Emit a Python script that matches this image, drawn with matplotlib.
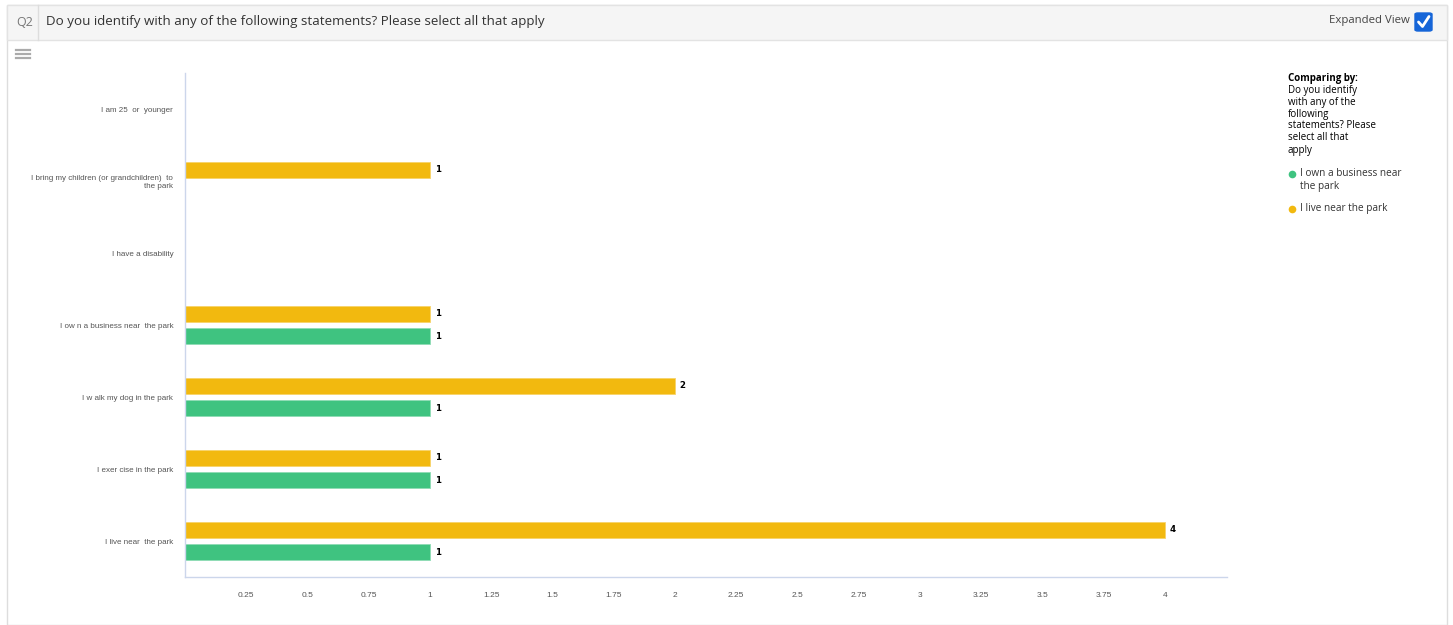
import numpy as np
import matplotlib
matplotlib.use("Agg")
import matplotlib.pyplot as plt
from matplotlib.patches import Rectangle, FancyBboxPatch
from matplotlib.lines import Line2D

categories = [
    "I am 25  or  younger",
    "I bring my children (or grandchildren)  to\nthe park",
    "I have a disability",
    "I ow n a business near  the park",
    "I w alk my dog in the park",
    "I exer cise in the park",
    "I live near  the park",
]
own_business = [0, 0, 0, 1, 1, 1, 1]
live_near = [0, 1, 0, 1, 2, 1, 4]
xticks = [0.25, 0.5, 0.75, 1, 1.25, 1.5, 1.75, 2, 2.25, 2.5, 2.75, 3, 3.25, 3.5, 3.75, 4]
series_names = ["I own a business near\nthe park", "I live near the park"]

GREEN = "#3fc380"
YELLOW = "#f2b90f"
W, H = 1453, 625

fig = plt.figure(figsize=(W / 100, H / 100), dpi=100)

def fx(px):
    return px / W

def fy(py):
    return 1 - py / H

# panel frame and header band (behind the axes)
fig.patches.append(Rectangle((fx(7), fy(625)), fx(1447) - fx(7), fy(5) - fy(625),
                             transform=fig.transFigure, facecolor="white",
                             edgecolor="#dddddd", lw=1, zorder=-2))
fig.patches.append(Rectangle((fx(7), fy(40)), fx(1447) - fx(7), fy(5) - fy(40),
                             transform=fig.transFigure, facecolor="#f5f5f5",
                             edgecolor="#e3e3e3", lw=1, zorder=-1))
fig.add_artist(Line2D([fx(38), fx(38)], [fy(5), fy(40)], color="#dddddd", lw=1))
fig.text(fx(16), fy(22), "Q2", fontsize=9, color="#777777", family="Open Sans", va="center")
fig.text(fx(46), fy(22), "Do you identify with any of the following statements? Please select all that apply",
         fontsize=9.6, color="#333333", family="Open Sans", va="center")
fig.text(fx(1410), fy(21), "Expanded View", fontsize=8.2, color="#444444",
         family="Open Sans", va="center", ha="right")
fig.patches.append(FancyBboxPatch((fx(1415), fy(31)), fx(17), fy(13) - fy(31),
                                  boxstyle="round,pad=0,rounding_size=0.002",
                                  transform=fig.transFigure, facecolor="#1565d8",
                                  edgecolor="#1565d8"))
fig.add_artist(Line2D([fx(1418.5), fx(1422.5), fx(1429)], [fy(22), fy(26.5), fy(16.5)],
                      color="white", lw=2, solid_capstyle="round"))
for yy in (50, 54, 58):
    fig.add_artist(Line2D([fx(16), fx(30)], [fy(yy), fy(yy)], color="#aaaaaa", lw=1.6))

# main chart
ax = fig.add_axes([fx(185), fy(577), fx(1227) - fx(185), fy(73) - fy(577)])
ax.patch.set_alpha(0)
y = np.arange(len(categories))
h = 0.225
off = 0.153
ax.barh(y - off, live_near, height=h, color=YELLOW, edgecolor="#f7d36a", lw=0.6)
ax.barh(y + off, own_business, height=h, color=GREEN, edgecolor="#8fdcb5", lw=0.6)

for i in range(len(categories)):
    if live_near[i]:
        ax.annotate(str(live_near[i]), (live_near[i], y[i] - off), xytext=(3.5, 0),
                    textcoords="offset points", va="center", fontsize=6.2,
                    fontweight="bold", color="black")
    if own_business[i]:
        ax.annotate(str(own_business[i]), (own_business[i], y[i] + off), xytext=(3.5, 0),
                    textcoords="offset points", va="center", fontsize=6.2,
                    fontweight="bold", color="black")

ax.set_ylim(len(categories) - 0.5, -0.5)
ax.set_xlim(0, 4.253)
ax.set_yticks(y)
ax.set_yticklabels(categories, fontsize=5.8, color="#555555", family="Liberation Sans",
                   ha="right", multialignment="right")
ax.set_xticks(xticks)
ax.set_xticklabels([f"{t:g}" for t in xticks], fontsize=6, color="#555555",
                   family="Liberation Sans")
ax.tick_params(axis="both", length=0)
ax.tick_params(axis="x", pad=10.5)
ax.tick_params(axis="y", pad=8.5)
for s in ("top", "right"):
    ax.spines[s].set_visible(False)
for s in ("left", "bottom"):
    ax.spines[s].set_color("#ccd6eb")
    ax.spines[s].set_linewidth(1)

# legend block
fig.text(fx(1288), fy(78), "Comparing by:", fontsize=7.0, fontweight="bold",
         family="Open Sans", color="black", va="center")
lines = ["Do you identify", "with any of the", "following", "statements? Please",
         "select all that", "apply"]
for k, ln in enumerate(lines):
    fig.text(fx(1288), fy(90 + 12 * k), ln, fontsize=7.0, family="Open Sans",
             color="black", va="center")
for name, col, yy in zip(series_names, [GREEN, YELLOW], [174, 209]):
    fig.add_artist(Line2D([fx(1291.5)], [fy(yy)], marker="o", markersize=5.5,
                          color=col, markeredgecolor="none", lw=0))
    fig.text(fx(1300), fy(yy - 6), name, fontsize=7.2, family="Open Sans",
             color="#333333", va="top", linespacing=1.3)

fig.savefig("out.png", dpi=100)
